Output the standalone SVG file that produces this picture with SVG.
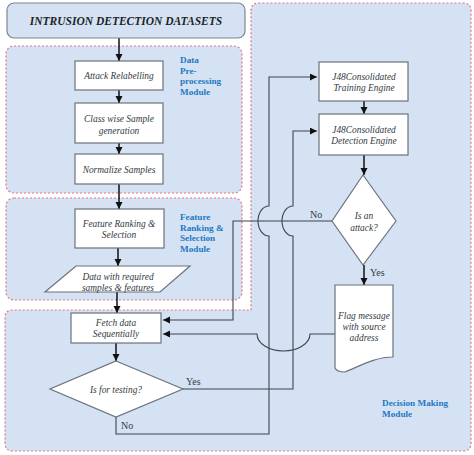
<svg xmlns="http://www.w3.org/2000/svg" width="474" height="455" viewBox="0 0 474 455" font-family="Liberation Serif, serif">
<style>
.panel{fill:#d5e2f3;stroke:#e57583;stroke-width:1.2;stroke-dasharray:2 2}
.box{fill:#ffffff;stroke:#6b737c;stroke-width:1.2}
.t{font-style:italic;font-size:9.4px;fill:#333a42;text-anchor:middle}
.lab{font-weight:bold;font-size:9.2px;fill:#1f78c4}
.yn{font-size:10px;fill:#333a42}
.c{fill:none;stroke:#3c4450;stroke-width:1.1}
.a{fill:none;stroke:#111;stroke-width:1.5}
</style>
<defs>
<marker id="ah" markerUnits="userSpaceOnUse" markerWidth="8" markerHeight="8" refX="7" refY="3.5" orient="auto">
<path d="M0,0 L7,3.5 L0,7 z" fill="#111"/>
</marker>
</defs>
<rect width="474" height="455" fill="#ffffff"/>
<g id="panels">
<path class="panel" d="M251 11 Q251 3 259 3 L463 3 Q471 3 471 11 L471 443 Q471 451 463 451 L13 451 Q5 451 5 443 L5 318 Q5 310 13 310 L251 310 Z"/>
<rect class="panel" x="6" y="46" width="236" height="147" rx="8"/>
<rect class="panel" x="6" y="198" width="236" height="102" rx="8"/>
<text class="lab" x="180" y="63">Data</text>
<text class="lab" x="180" y="73.5">Pre-</text>
<text class="lab" x="180" y="84">processing</text>
<text class="lab" x="180" y="94.5">Module</text>
<text class="lab" x="180" y="220">Feature</text>
<text class="lab" x="180" y="230.5">Ranking &amp;</text>
<text class="lab" x="180" y="241">Selection</text>
<text class="lab" x="180" y="251.5">Module</text>
<text class="lab" x="382" y="406">Decision Making</text>
<text class="lab" x="382" y="416.5">Module</text>
</g>
<g id="connectors">
<line class="a" x1="119" y1="38" x2="119" y2="61" marker-end="url(#ah)"/>
<line class="a" x1="119" y1="90" x2="119" y2="103" marker-end="url(#ah)"/>
<line class="a" x1="119" y1="143" x2="119" y2="154" marker-end="url(#ah)"/>
<line class="a" x1="119" y1="184" x2="119" y2="209" marker-end="url(#ah)"/>
<line class="a" x1="118" y1="248" x2="118" y2="266" marker-end="url(#ah)"/>
<line class="a" x1="117" y1="292" x2="117" y2="313" marker-end="url(#ah)"/>
<line class="a" x1="116" y1="343" x2="116" y2="361" marker-end="url(#ah)"/>
<line class="a" x1="364" y1="101" x2="364" y2="114" marker-end="url(#ah)"/>
<line class="a" x1="364" y1="155" x2="364" y2="175" marker-end="url(#ah)"/>
<line class="a" x1="364" y1="265" x2="364" y2="285" marker-end="url(#ah)"/>
<path class="c" d="M116 417 L116 434 L269 434 L269 236 A11 15 0 0 1 269 206 L269 77 L317 77" marker-end="url(#ah)"/>
<path class="c" d="M183 389 L293 389 L293 236 A11 15 0 0 1 293 206 L293 131 L317 131" marker-end="url(#ah)"/>
<path class="c" d="M332 221 L233 221 L233 320 L163 320" marker-end="url(#ah)"/>
<path class="c" d="M335 334 L310 334 A26.5 17 0 0 1 257 334 L163 334" marker-end="url(#ah)"/>
<text class="yn" x="186" y="385">Yes</text>
<text class="yn" x="121" y="429">No</text>
<text class="yn" x="310" y="218">No</text>
<text class="yn" x="370" y="276">Yes</text>
</g>
<g id="title">
<rect x="7" y="3" width="238" height="35" rx="7" fill="#d5e2f3" stroke="#7d8790" stroke-width="1.2"/>
<text x="126" y="25" font-style="italic" font-weight="bold" font-size="11.5" fill="#1a1f26" text-anchor="middle">INTRUSION DETECTION DATASETS</text>
</g>
<g id="attack-relabelling">
<rect class="box" x="75" y="61" width="88" height="29"/>
<text class="t" x="119" y="79">Attack Relabelling</text>
</g>
<g id="class-wise">
<rect class="box" x="75" y="103" width="88" height="40"/>
<text class="t" x="119" y="122">Class wise Sample</text>
<text class="t" x="119" y="134">generation</text>
</g>
<g id="normalize">
<rect class="box" x="75" y="154" width="88" height="30"/>
<text class="t" x="119" y="173">Normalize Samples</text>
</g>
<g id="feature-ranking">
<rect class="box" x="75" y="209" width="89" height="39"/>
<text class="t" x="119" y="227">Feature Ranking &amp;</text>
<text class="t" x="119" y="238">Selection</text>
</g>
<g id="data-required">
<polygon class="box" points="76,266 190,266 160,292 45,292"/>
<text class="t" x="118" y="280">Data with required</text>
<text class="t" x="118" y="290.5">samples &amp; features</text>
</g>
<g id="fetch-data">
<rect class="box" x="71" y="313" width="90" height="30"/>
<text class="t" x="116" y="326">Fetch data</text>
<text class="t" x="116" y="337">Sequentially</text>
</g>
<g id="is-for-testing">
<polygon class="box" points="116,361 183,389 116,417 50,389"/>
<text class="t" x="116" y="393">Is for testing?</text>
</g>
<g id="training-engine">
<rect class="box" x="319" y="62" width="89" height="39"/>
<text class="t" x="364" y="80">J48Consolidated</text>
<text class="t" x="364" y="91">Training Engine</text>
</g>
<g id="detection-engine">
<rect class="box" x="319" y="114" width="89" height="41"/>
<text class="t" x="364" y="133">J48Consolidated</text>
<text class="t" x="364" y="144">Detection Engine</text>
</g>
<g id="is-an-attack">
<polygon class="box" points="363,175 396,221 363,265 332,221"/>
<text class="t" x="364" y="219">Is an</text>
<text class="t" x="364" y="231">attack?</text>
</g>
<g id="flag-message">
<path class="box" d="M335 285 L393 285 L393 357 C375 357 360 366 345 372 C340 372 336 370 335 368 Z"/>
<text class="t" x="364" y="319">Flag message</text>
<text class="t" x="364" y="330">with source</text>
<text class="t" x="364" y="341">address</text>
</g>
</svg>
